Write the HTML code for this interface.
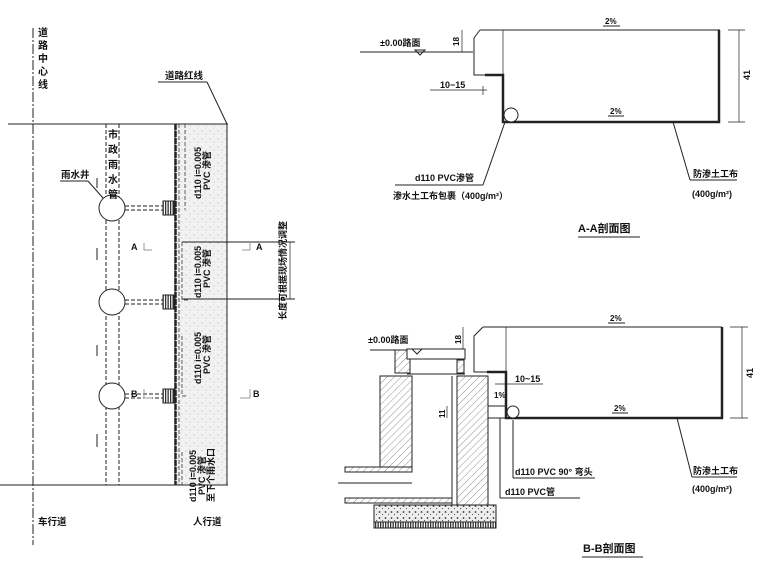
<!DOCTYPE html>
<html><head><meta charset="utf-8"><style>
html,body{margin:0;padding:0;background:#fff}
svg{display:block}
text{font-family:"Liberation Sans","Noto Sans CJK SC",sans-serif;font-weight:bold;fill:#111}
</style></head><body>
<svg width="760" height="564" viewBox="0 0 760 564" xmlns="http://www.w3.org/2000/svg">
<defs>
<pattern id="sp" width="8" height="8" patternUnits="userSpaceOnUse">
<rect width="8" height="8" fill="#f2f2f2"/><circle cx="2" cy="3" r="0.5" fill="#999"/><circle cx="6" cy="6" r="0.5" fill="#aaa"/><circle cx="5" cy="1" r="0.4" fill="#bbb"/></pattern>
<pattern id="ht" width="5" height="5" patternUnits="userSpaceOnUse" patternTransform="rotate(45)">
<rect width="5" height="5" fill="#fff"/><line x1="0" y1="0" x2="0" y2="5" stroke="#777" stroke-width="0.8"/></pattern>
<pattern id="cs" width="6" height="6" patternUnits="userSpaceOnUse">
<rect width="6" height="6" fill="#eee"/><circle cx="1.5" cy="2" r="0.9" fill="#333"/><circle cx="4.5" cy="4.5" r="0.6" fill="#555"/></pattern>
<pattern id="gr" width="2.5" height="14" patternUnits="userSpaceOnUse"><rect width="2.5" height="14" fill="#fff"/><rect width="1.3" height="14" fill="#333"/></pattern>
</defs>
<g stroke="#222" fill="none" stroke-width="1">
<line x1="33" y1="28" x2="33" y2="545" stroke-dasharray="10,2,2,2"/>
<line x1="8" y1="124" x2="228" y2="124"/>
<line x1="0" y1="485" x2="228" y2="485"/>
<rect x="175" y="124" width="52" height="361" fill="url(#sp)"/>
<line x1="175.5" y1="124" x2="175.5" y2="485" stroke-width="2.5" stroke-dasharray="6,1"/>
<line x1="179" y1="124" x2="179" y2="485" stroke-dasharray="4,2" stroke-width="0.7"/>
<line x1="185" y1="124" x2="185" y2="210" stroke-dasharray="4,2" stroke-width="0.7"/>
<polyline points="182,242 182,300 190,300" stroke-dasharray="4,2" stroke-width="0.7"/>
<polyline points="182,336 182,396 187,396" stroke-dasharray="4,2" stroke-width="0.7"/>
<line x1="182" y1="452" x2="182" y2="485" stroke-dasharray="4,2" stroke-width="0.7"/>
<line x1="106" y1="124" x2="106" y2="485" stroke-dasharray="4,2"/>
<line x1="119" y1="124" x2="119" y2="485" stroke-dasharray="4,2"/>
<line x1="158" y1="82" x2="207" y2="82"/><line x1="207" y1="82" x2="227" y2="124"/>
<line x1="60" y1="181" x2="88" y2="181"/><line x1="88" y1="181" x2="110" y2="206"/>
<g fill="#fff">
<circle cx="112" cy="208" r="13"/><circle cx="112" cy="302" r="13"/><circle cx="112" cy="396" r="13"/>
</g>
<g stroke-dasharray="4,2">
<line x1="125" y1="206" x2="164" y2="206"/><line x1="125" y1="210" x2="164" y2="210"/>
<line x1="125" y1="300" x2="164" y2="300"/><line x1="125" y1="304" x2="164" y2="304"/>
<line x1="125" y1="394" x2="164" y2="394"/><line x1="125" y1="398" x2="164" y2="398"/>
</g>
<rect x="163" y="201" width="11" height="14" fill="url(#gr)"/>
<rect x="163" y="295" width="11" height="14" fill="url(#gr)"/>
<rect x="163" y="389" width="11" height="14" fill="url(#gr)"/>
<line x1="97" y1="178" x2="97" y2="188"/><line x1="97" y1="248" x2="97" y2="260"/><line x1="97" y1="345" x2="97" y2="356"/><line x1="97" y1="434" x2="97" y2="447"/>
<line x1="182" y1="242" x2="295" y2="242"/><line x1="182" y1="299" x2="295" y2="299"/>
<line x1="290" y1="242" x2="290" y2="299" stroke-width="0.7"/>
<polyline points="144,243 144,250 152,250" stroke="#999"/><polyline points="250,242 250,250 242,250" stroke="#999"/>
<polyline points="144,389 144,398 152,398" stroke="#999"/><polyline points="250,389 250,398 240,398" stroke="#999"/>
<line x1="360" y1="52" x2="473" y2="52"/>
<polyline points="480,30 474,38 474,75 487,75"/>
<line x1="480" y1="30" x2="720" y2="30"/>
<line x1="503" y1="30" x2="503" y2="75" stroke-width="0.7"/>
<polyline points="485,75 503,75 503,122 719,122 719,30" stroke-width="2.5"/>
<circle cx="511" cy="115" r="7" fill="#fff"/>
<line x1="462" y1="30" x2="462" y2="52" stroke-width="0.7"/>
<line x1="430" y1="90" x2="487" y2="90" stroke-width="0.7"/><line x1="483" y1="86" x2="483" y2="95" stroke-width="0.7"/>
<line x1="739" y1="30" x2="739" y2="122" stroke-width="0.7"/>
<line x1="728" y1="30" x2="745" y2="30" stroke-width="0.7"/><line x1="728" y1="122" x2="745" y2="122" stroke-width="0.7"/>
<line x1="505" y1="122" x2="483" y2="185"/><line x1="395" y1="185" x2="483" y2="185"/>
<line x1="673" y1="122" x2="690" y2="180"/><line x1="690" y1="180" x2="737" y2="180"/>
<line x1="578" y1="237" x2="640" y2="237"/>
<line x1="603" y1="26" x2="620" y2="26"/><line x1="608" y1="116" x2="624" y2="116"/>
<polygon points="415,50 425,50 420,55" fill="none"/>
<line x1="370" y1="350" x2="395" y2="350"/>
<polyline points="483,327 474,336 474,372 487,372"/>
<line x1="483" y1="327" x2="722" y2="327"/>
<line x1="506" y1="327" x2="506" y2="372" stroke-width="0.7"/>
<polyline points="487,372 506,372 506,418 722,418 722,327" stroke-width="2.5"/>
<circle cx="513" cy="412" r="6" fill="#fff"/>
<line x1="742" y1="327" x2="742" y2="418" stroke-width="0.7"/>
<line x1="730" y1="327" x2="748" y2="327" stroke-width="0.7"/><line x1="730" y1="418" x2="748" y2="418" stroke-width="0.7"/>
<line x1="463" y1="327" x2="463" y2="349" stroke-width="0.7"/>
<line x1="495" y1="384" x2="543" y2="384" stroke-width="0.7"/>
<rect x="395" y="350" width="15" height="23" fill="url(#ht)"/>
<rect x="457" y="360" width="7" height="13" fill="url(#ht)"/>
<rect x="407" y="349" width="58" height="10" fill="#fff"/>
<polygon points="412,349 422,349 417,354"/>
<line x1="407" y1="374" x2="465" y2="374"/>
<rect x="380" y="376" width="32" height="92" fill="url(#ht)"/>
<rect x="457" y="376" width="31" height="129" fill="url(#ht)"/>
<line x1="452" y1="376" x2="452" y2="505"/>
<line x1="345" y1="467" x2="412" y2="467"/><rect x="345" y="467" width="67" height="5" fill="url(#ht)"/>
<line x1="338" y1="483" x2="412" y2="483"/>
<rect x="345" y="498" width="107" height="5" fill="url(#ht)"/>
<rect x="374" y="505" width="122" height="17" fill="url(#cs)"/>
<rect x="374" y="522" width="122" height="6" fill="url(#gr)"/>
<line x1="488" y1="406" x2="506" y2="406"/><line x1="488" y1="418" x2="506" y2="418"/>
<line x1="447" y1="406" x2="447" y2="418" stroke-width="0.7"/>
<line x1="513" y1="420" x2="513" y2="478"/><line x1="513" y1="478" x2="595" y2="478"/>
<line x1="500" y1="418" x2="500" y2="498"/><line x1="500" y1="498" x2="580" y2="498"/>
<line x1="677" y1="418" x2="692" y2="477"/><line x1="692" y1="477" x2="737" y2="477"/>
<line x1="582" y1="557" x2="643" y2="557"/>
<line x1="608" y1="323" x2="625" y2="323"/><line x1="612" y1="413" x2="628" y2="413"/>
</g>
<g font-size="10">
<text x="38" y="36">道</text><text x="38" y="49">路</text><text x="38" y="62">中</text><text x="38" y="75">心</text><text x="38" y="88">线</text>
<text x="108" y="138">市</text><text x="108" y="153">政</text><text x="108" y="168">雨</text><text x="108" y="183">水</text><text x="108" y="198">管</text>
<text x="165" y="79" font-size="9.5">道路红线</text>
<text x="61" y="178" font-size="9.5">雨水井</text>
<text x="131" y="250" font-size="9">A</text><text x="256" y="250" font-size="9">A</text>
<text x="131" y="397" font-size="9">B</text><text x="253" y="397" font-size="9">B</text>
<text x="38" y="525" font-size="9.5">车行道</text><text x="193" y="525" font-size="9.5">人行道</text>
</g>
<g font-size="9">
<text transform="translate(201,199) rotate(-90)" textLength="52" lengthAdjust="spacingAndGlyphs">d110 i=0.005</text><text transform="translate(210,190) rotate(-90)">PVC 渗管</text>
<text transform="translate(201,298) rotate(-90)" textLength="52" lengthAdjust="spacingAndGlyphs">d110 i=0.005</text><text transform="translate(210,288) rotate(-90)">PVC 渗管</text>
<text transform="translate(201,384) rotate(-90)" textLength="52" lengthAdjust="spacingAndGlyphs">d110 i=0.005</text><text transform="translate(210,374) rotate(-90)">PVC 渗管</text>
<text transform="translate(196,502) rotate(-90)" textLength="52" lengthAdjust="spacingAndGlyphs">d110 i=0.005</text><text transform="translate(205,495) rotate(-90)">PVC 渗管</text><text transform="translate(214,502) rotate(-90)">至下个雨水口</text>
<text transform="translate(286,320) rotate(-90)">长度可根据现场情况调整</text>
<text x="380" y="46">±0.00路面</text>
<text x="605" y="24" font-size="8">2%</text><text x="610" y="114" font-size="8">2%</text>
<text font-size="8" font-weight="normal" transform="translate(459,46) rotate(-90)">18</text>
<text x="440" y="88" font-size="9" font-weight="normal">10−15</text>
<text font-size="9" font-weight="normal" transform="translate(750,80) rotate(-90)">41</text>
<text x="415" y="181">d110 PVC渗管</text>
<text x="393" y="199">渗水土工布包裹（400g/m²）</text>
<text x="693" y="177">防渗土工布</text><text x="692" y="197">(400g/m²)</text>
<text x="578" y="232" font-size="11">A-A剖面图</text>
<text x="368" y="343">±0.00路面</text>
<text x="610" y="321" font-size="8">2%</text><text x="614" y="411" font-size="8">2%</text>
<text font-size="8" font-weight="normal" transform="translate(461,344) rotate(-90)">18</text>
<text x="515" y="382" font-size="9" font-weight="normal">10~15</text>
<text x="494" y="398" font-size="8">1%</text>
<text font-size="8" font-weight="normal" transform="translate(445,418) rotate(-90)">11</text>
<text font-size="9" font-weight="normal" transform="translate(753,378) rotate(-90)">41</text>
<text x="515" y="475">d110 PVC 90° 弯头</text>
<text x="505" y="495">d110 PVC管</text>
<text x="693" y="474">防渗土工布</text><text x="692" y="492">(400g/m²)</text>
<text x="583" y="552" font-size="11">B-B剖面图</text>
</g>
</svg>
</body></html>
